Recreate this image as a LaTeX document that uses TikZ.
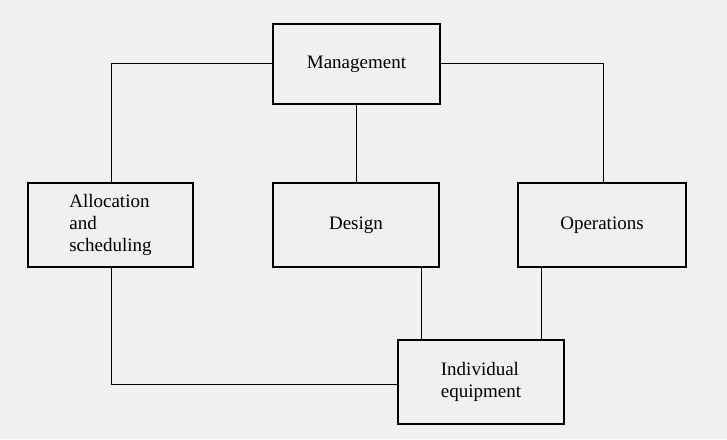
\documentclass[tikz,border=0pt]{standalone}
\usepackage{fontspec}
\setmainfont{Liberation Serif}
\begin{document}
\begin{tikzpicture}[x=1pt,y=-1pt,
  box/.style={draw,line width=1.2pt,fill=white!94!black,inner sep=0pt,align=left,font=\fontsize{19}{22}\selectfont},
  ln/.style={line width=0.8pt}]
\useasboundingbox[fill=white!94!black] (0,0) rectangle (727,439);
\node[box,minimum width=167,minimum height=80] (m) at (356.5,64) {Management};
\node[box,minimum width=165,minimum height=84] (a) at (110.5,225) {Allocation\\and\\scheduling};
\node[box,minimum width=166,minimum height=84] (d) at (356,225) {Design};
\node[box,minimum width=168,minimum height=84] (o) at (602,225) {Operations};
\node[box,minimum width=166,minimum height=84] (i) at (481,382) {Individual\\equipment};
\coordinate (c1) at (111,63);
\coordinate (c2) at (603,63);
\coordinate (c3) at (111,384);
\draw[ln] (m.west |- c1) -- (c1) -- (a.north -| c1);
\draw[ln] (m.east |- c2) -- (c2) -- (o.north -| c2);
\draw[ln] (m.south -| 356,0) -- (d.north -| 356,0);
\draw[ln] (a.south -| c3) -- (c3) -- (i.west |- c3);
\draw[ln] (d.south -| 421,0) -- (i.north -| 421,0);
\draw[ln] (o.south -| 541,0) -- (i.north -| 541,0);
\end{tikzpicture}
\end{document}
